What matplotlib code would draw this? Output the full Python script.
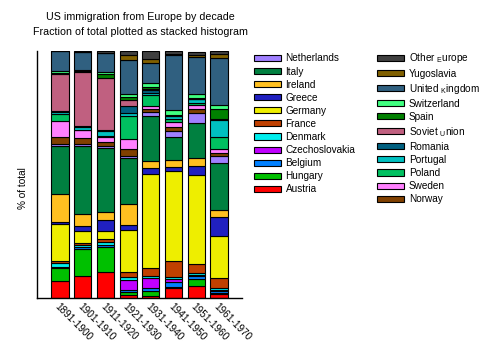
import matplotlib
matplotlib.use("Agg")
import matplotlib.pyplot as plt
from matplotlib.patches import Patch
import numpy as np

plt.rcParams['font.family'] = ['Liberation Sans', 'DejaVu Sans']

decades = ["1891-1900", "1901-1910", "1911-1920", "1921-1930",
           "1931-1940", "1941-1950", "1951-1960", "1961-1970"]

# percent of total European immigration per decade (bottom of stack first)
austria        = [6.93, 9.05, 10.50, 1.33, 0.95, 4.00, 5.06, 1.83]
hungary        = [5.37, 10.94, 10.24, 1.25, 2.09, 0.56, 2.76, 0.48]
belgium        = [0.54, 0.56, 0.78, 0.64, 1.28, 1.96, 1.40, 0.82]
czechoslovakia = [0.00, 0.00, 0.08, 4.15, 3.82, 1.34, 0.07, 0.29]
denmark        = [1.49, 0.88, 0.97, 1.32, 0.68, 0.87, 0.83, 0.82]
france         = [0.91, 0.99, 1.43, 2.01, 3.35, 6.25, 3.86, 4.02]
germany        = [14.95, 4.62, 3.33, 16.73, 37.98, 36.48, 36.04, 16.97]
greece         = [0.47, 2.27, 4.26, 2.07, 2.42, 1.45, 3.59, 7.65]
ireland        = [11.50, 4.59, 3.38, 8.58, 2.91, 3.19, 3.27, 2.93]
italy          = [19.30, 27.69, 25.67, 18.49, 18.07, 9.28, 13.99, 19.04]
netherlands    = [0.79, 0.65, 1.01, 1.09, 1.90, 2.39, 3.94, 2.72]
norway         = [2.81, 2.58, 1.54, 2.78, 1.26, 1.63, 1.73, 1.38]
sweden         = [6.70, 3.38, 2.20, 3.95, 1.05, 1.72, 1.64, 1.52]
poland         = [2.86, 0.00, 0.11, 9.25, 4.52, 1.22, 0.75, 4.76]
portugal       = [0.81, 0.94, 2.08, 1.22, 0.88, 1.20, 1.48, 6.76]
romania        = [0.38, 0.72, 0.31, 2.75, 1.03, 0.17, 0.08, 0.31]
soviet_union   = [14.96, 21.62, 21.32, 2.51, 0.36, 0.09, 0.05, 0.22]
spain          = [0.26, 0.38, 1.59, 1.18, 0.87, 0.47, 0.60, 3.97]
switzerland    = [0.92, 0.47, 0.53, 1.21, 1.46, 1.70, 1.33, 1.64]
united_kingdom = [8.04, 7.12, 7.90, 13.79, 8.39, 22.43, 15.30, 19.02]
yugoslavia     = [0.00, 0.00, 0.04, 1.99, 1.55, 0.25, 0.62, 1.81]
other_europe   = [0.01, 0.54, 0.73, 1.73, 3.17, 1.37, 1.23, 1.03]

series = [
    ("Austria", austria, "#ff0000"),
    ("Hungary", hungary, "#00c000"),
    ("Belgium", belgium, "#0080ff"),
    ("Czechoslovakia", czechoslovakia, "#c000ff"),
    ("Denmark", denmark, "#00eeee"),
    ("France", france, "#c04000"),
    ("Germany", germany, "#eeee00"),
    ("Greece", greece, "#2020c0"),
    ("Ireland", ireland, "#ffc020"),
    ("Italy", italy, "#008040"),
    ("Netherlands", netherlands, "#a080ff"),
    ("Norway", norway, "#804000"),
    ("Sweden", sweden, "#ff80ff"),
    ("Poland", poland, "#00c060"),
    ("Portugal", portugal, "#00c0c0"),
    ("Romania", romania, "#006080"),
    ("Soviet $_\\mathregular{U}$nion", soviet_union, "#c06080"),
    ("Spain", spain, "#008000"),
    ("Switzerland", switzerland, "#40ff80"),
    ("United $_\\mathregular{K}$ingdom", united_kingdom, "#306080"),
    ("Yugoslavia", yugoslavia, "#806000"),
    ("Other $_\\mathregular{E}$urope", other_europe, "#404040"),
]

fig = plt.figure(figsize=(5, 3.5), dpi=100)
ax = fig.add_axes([0.0746, 0.1477, 0.4088, 0.7066])

x = np.arange(len(decades))
bottom = np.zeros(len(decades))
handles = []
for name, vals, col in series:
    v = np.array(vals, dtype=float)
    ax.bar(x, v, width=0.75, bottom=bottom, color=col,
           edgecolor="black", linewidth=0.8)
    bottom += v
    handles.append(Patch(facecolor=col, edgecolor="black", linewidth=0.8, label=name))

ax.set_xlim(-1, 8)
ax.set_ylim(0, 100)
ax.spines["top"].set_visible(False)
ax.spines["right"].set_visible(False)
ax.spines["left"].set_linewidth(1.0)
ax.spines["bottom"].set_linewidth(1.0)
ax.set_yticks([])
ax.set_xticks(x)
ax.set_xticklabels(decades, rotation=-45, ha="left", va="top",
                   rotation_mode="anchor", fontsize=7.2)
ax.tick_params(axis="x", length=0, pad=2.5)

fig.text(0.28, 0.952, "US immigration from Europe by decade",
         ha="center", va="center", fontsize=7.7)
fig.text(0.28, 0.909, "Fraction of total plotted as stacked histogram",
         ha="center", va="center", fontsize=7.7)
fig.text(0.046, 0.463, "% of total", rotation=90, ha="center", va="center",
         fontsize=7.2)

# legend: first column Netherlands..Austria, second Other Europe..Norway
order = list(range(10, -1, -1)) + list(range(21, 10, -1))
leg = fig.legend([handles[i] for i in order], [handles[i].get_label() for i in order],
                 ncol=2, loc="upper left", bbox_to_anchor=(0.507, 0.853),
                 frameon=False, fontsize=7.2, handlelength=2.7, handleheight=0.55,
                 handletextpad=0.5, labelspacing=0.31, columnspacing=2.15,
                 borderaxespad=0, borderpad=0)

fig.savefig("out.png", dpi=100)
